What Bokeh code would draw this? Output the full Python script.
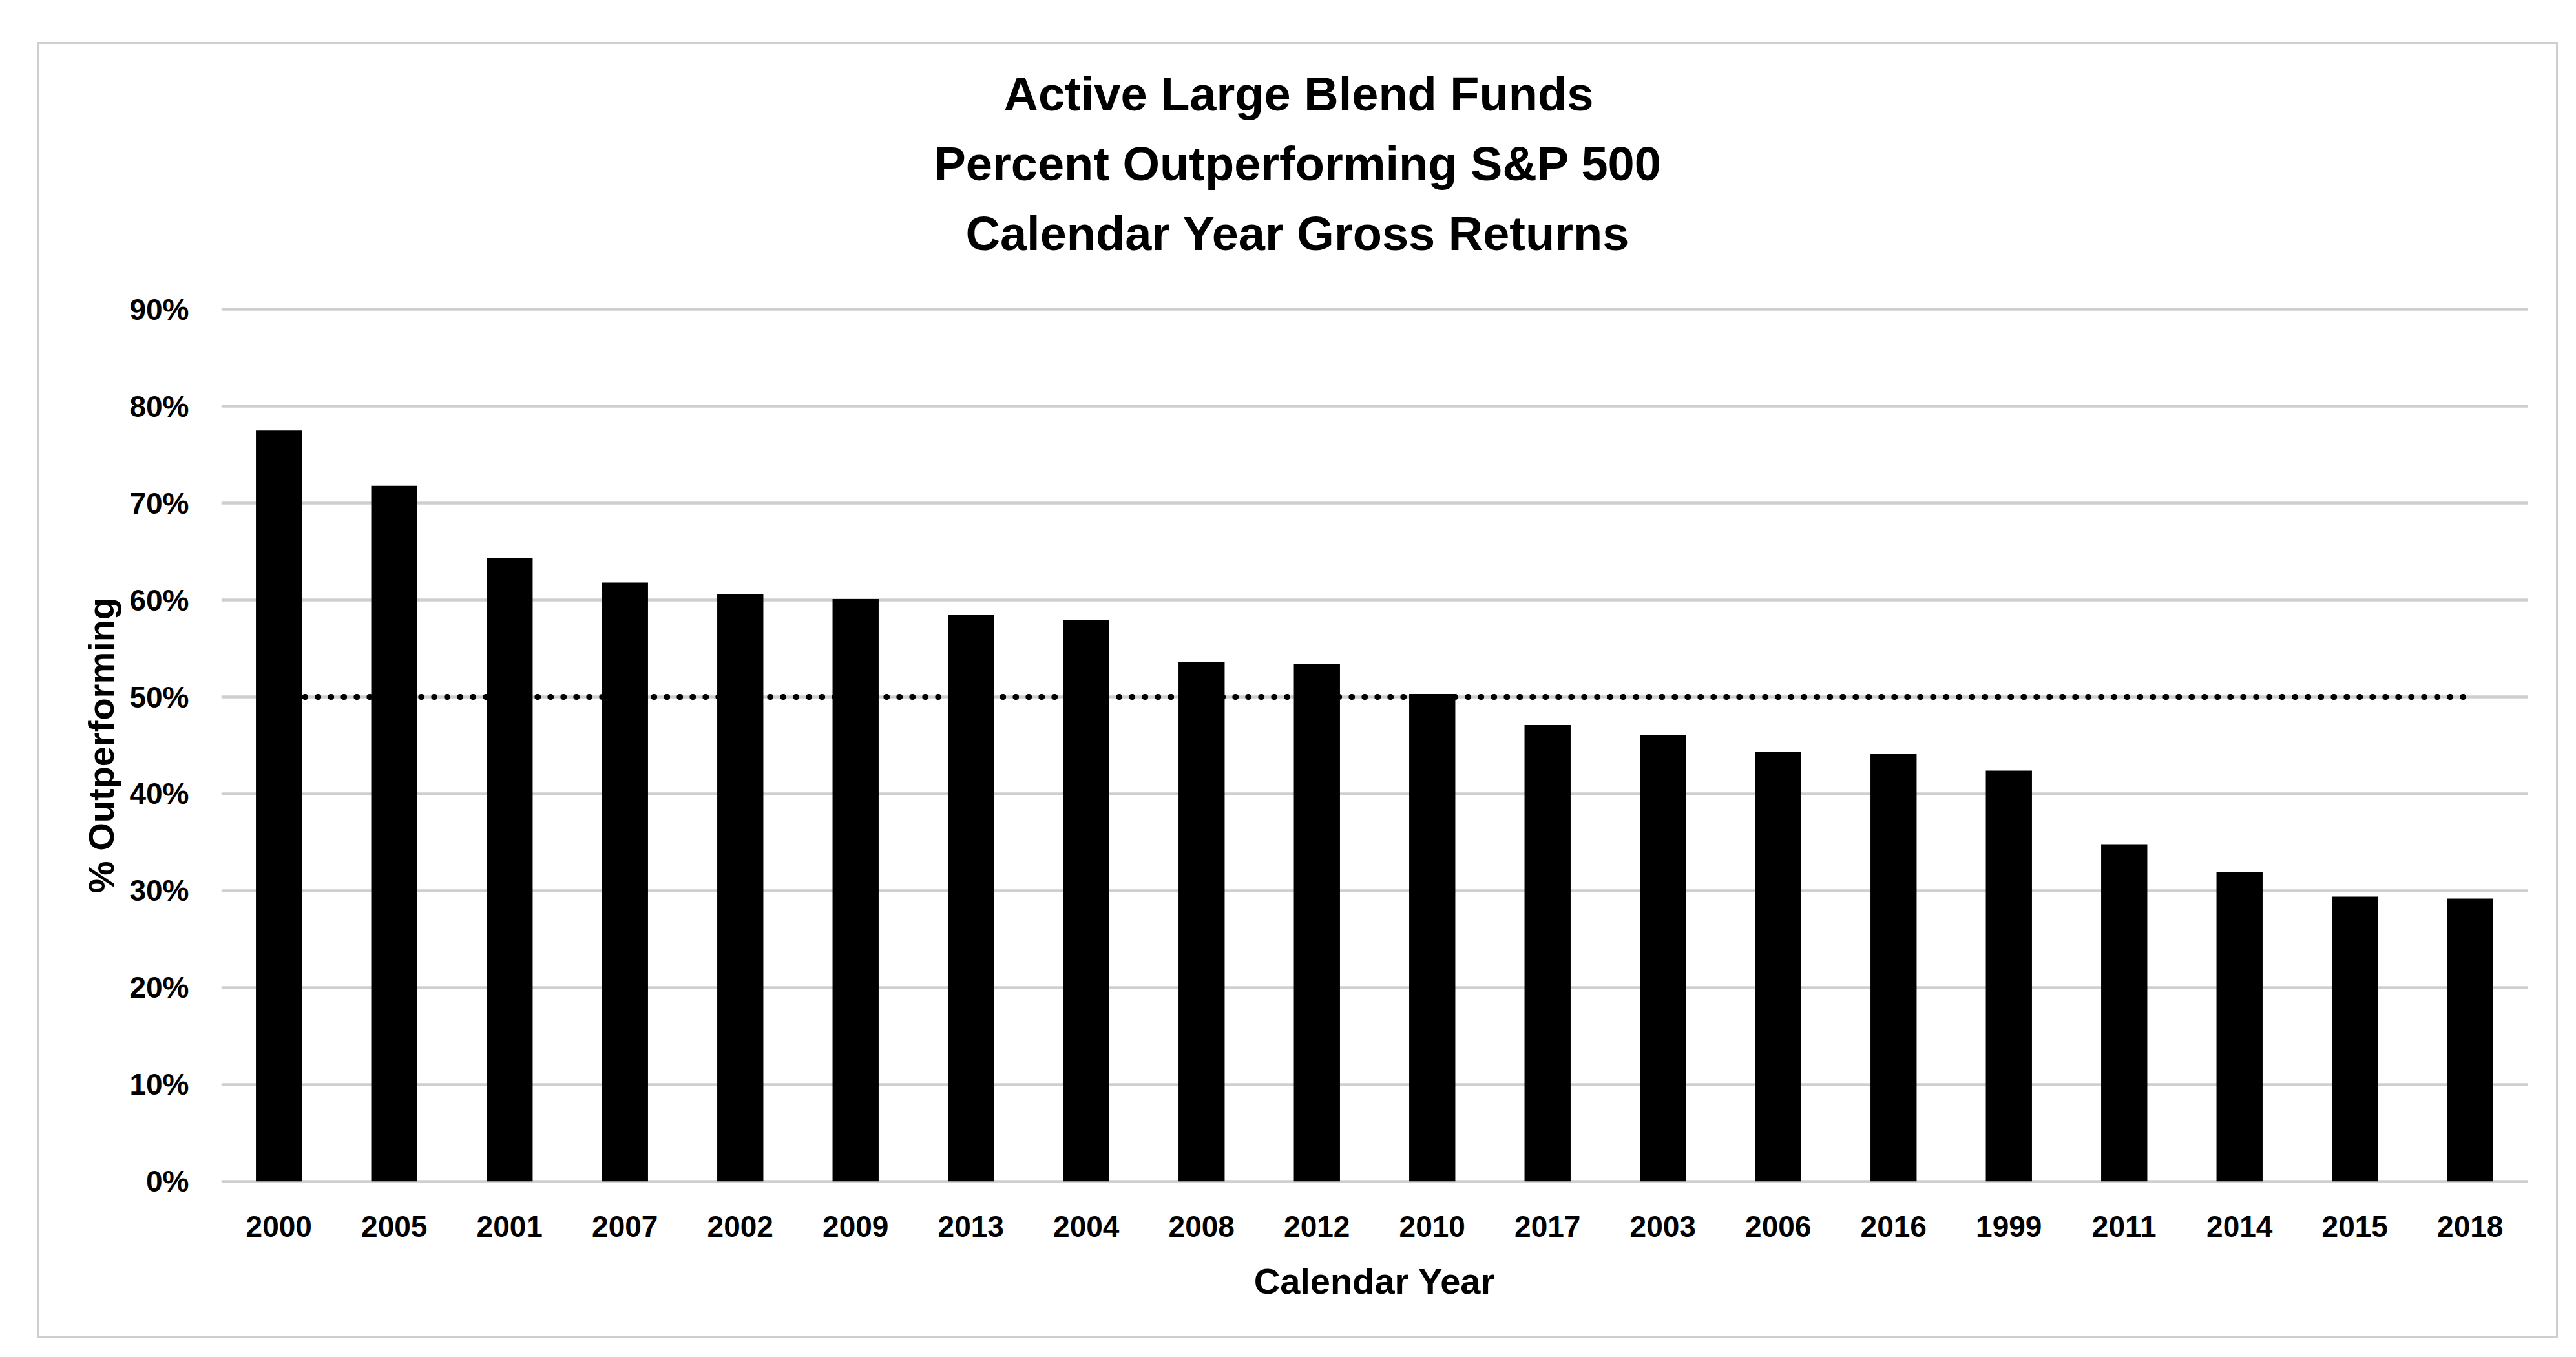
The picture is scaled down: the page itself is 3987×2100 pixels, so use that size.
from bokeh.plotting import figure
from bokeh.models import (FactorRange, Range1d, FixedTicker, NumeralTickFormatter,
                          Title, ColumnDataSource)
from bokeh.embed import file_html
from bokeh.resources import INLINE

# ---- data ----
years = ["2000", "2005", "2001", "2007", "2002", "2009", "2013", "2004", "2008", "2012",
         "2010", "2017", "2003", "2006", "2016", "1999", "2011", "2014", "2015", "2018"]
pct_outperforming = [77.5, 71.8, 64.3, 61.8, 60.6, 60.1, 58.5, 57.9, 53.6, 53.4,
                     50.3, 47.1, 46.1, 44.3, 44.1, 42.4, 34.8, 31.9, 29.4, 29.2]
benchmark_pct = 50.0
y_ticks_pct = [0, 10, 20, 30, 40, 50, 60, 70, 80, 90]
title_lines = ["Active Large Blend Funds",
               "Percent Outperforming S&P 500",
               "Calendar Year Gross Returns"]
x_title = "Calendar Year"
y_title = "% Outperforming"

FONT = "Liberation Sans"
GRID = "#cfcfcf"

src = ColumnDataSource(data=dict(year=years, share=[v / 100 for v in pct_outperforming]))

W, H = 3979, 2092
p = figure(width=W, height=H,
           x_range=FactorRange(factors=years),
           y_range=Range1d(-0.0015, 0.9015),
           output_backend="svg", toolbar_location=None,
           min_border_left=342, min_border_right=67,
           min_border_top=476, min_border_bottom=262)
p.title.text = ""
p.outline_line_color = None
p.background_fill_color = None
p.border_fill_color = None

# light grey chart-area border (drawn as the host element's background)
bx, by, bw, bh, t = 57, 65, 3902, 2005, 3
g = f"linear-gradient({GRID},{GRID})"
p.styles = {
    "background": (
        f"{g} {bx}px {by}px / {bw}px {t}px no-repeat, "
        f"{g} {bx}px {by + bh - t}px / {bw}px {t}px no-repeat, "
        f"{g} {bx}px {by}px / {t}px {bh}px no-repeat, "
        f"{g} {bx + bw - t}px {by}px / {t}px {bh}px no-repeat, white"
    )
}

# 50% reference line (behind bars)
p.segment(x0=[years[0]], x1=[years[-1]], y0=[benchmark_pct / 100], y1=[benchmark_pct / 100],
          line_color="black", line_width=9, line_dash="1 19", line_cap="round")

p.vbar(x="year", top="share", width=0.4, source=src,
       fill_color="black", line_color=None)

# grid
p.xgrid.visible = False
p.ygrid.ticker = FixedTicker(ticks=[t_ / 100 for t_ in y_ticks_pct])
p.ygrid.grid_line_color = GRID
p.ygrid.grid_line_width = 4.5

# y axis
ya = p.yaxis[0]
ya.ticker = FixedTicker(ticks=[t_ / 100 for t_ in y_ticks_pct])
ya.formatter = NumeralTickFormatter(format="0%")
ya.axis_line_color = None
ya.major_tick_line_color = None
ya.minor_tick_line_color = None
ya.major_tick_out = 0
ya.major_label_standoff = 50
ya.major_label_text_font = FONT
ya.major_label_text_font_style = "bold"
ya.major_label_text_font_size = "46px"
ya.major_label_text_color = "black"
ya.axis_label = y_title
ya.axis_label_text_font = FONT
ya.axis_label_text_font_style = "bold"
ya.axis_label_text_font_size = "56px"
ya.axis_label_text_color = "black"
ya.axis_label_standoff = 9

# x axis
xa = p.xaxis[0]
xa.axis_line_color = None
xa.major_tick_line_color = None
xa.minor_tick_line_color = None
xa.major_tick_out = 0
xa.major_label_standoff = 51
xa.major_label_text_font = FONT
xa.major_label_text_font_style = "bold"
xa.major_label_text_font_size = "46px"
xa.major_label_text_color = "black"
xa.axis_label = x_title
xa.axis_label_text_font = FONT
xa.axis_label_text_font_style = "bold"
xa.axis_label_text_font_size = "56px"
xa.axis_label_text_color = "black"
xa.axis_label_standoff = 34

# spacer between plot area and the title block
p.add_layout(Title(text=" ", text_font_size="2px", standoff=58), "above")

# title lines, bottom line first so it sits closest to the plot
title_offsets = [1211, 1103, 1152]
for line, off in reversed(list(zip(title_lines, title_offsets))):
    p.add_layout(Title(text=line, align="left", offset=off, standoff=23,
                       text_font=FONT, text_font_style="bold",
                       text_font_size="74px", text_color="black"), "above")

open("out.html", "w").write(file_html(p, INLINE))
